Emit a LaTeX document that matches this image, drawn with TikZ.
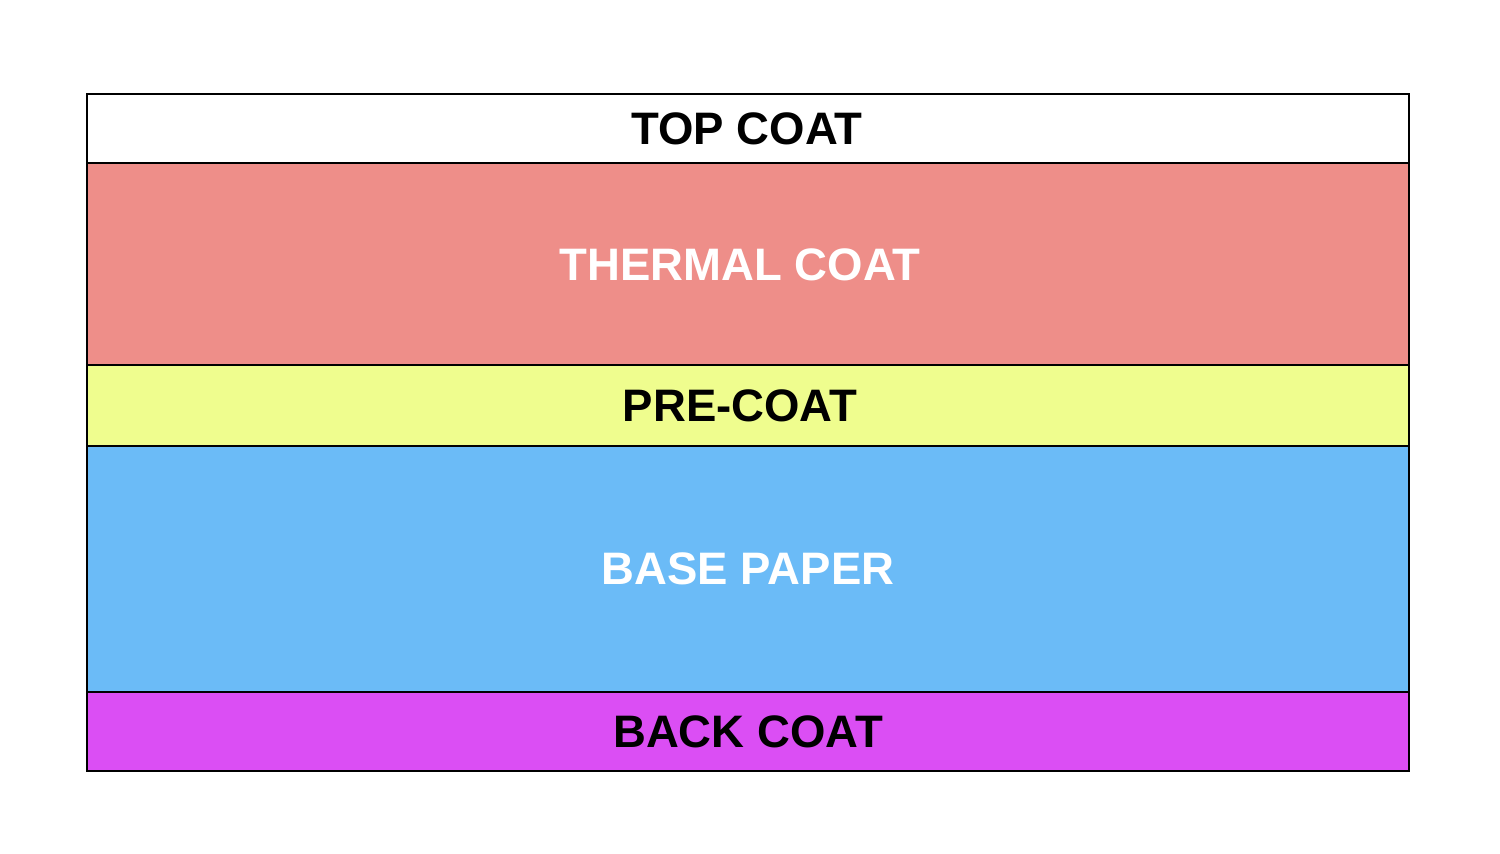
\documentclass[tikz,border=0pt]{standalone}
\usepackage{fontspec}
\setmainfont{Liberation Sans}
\definecolor{thermal}{HTML}{EE8E89}
\definecolor{precoat}{HTML}{EFFD8E}
\definecolor{basepaper}{HTML}{6BBBF7}
\definecolor{backcoat}{HTML}{DB4EF4}
\begin{document}
\begin{tikzpicture}[
	layer/.style={draw=black, line width=0.6pt},
	lbl/.style={font=\fontsize{12.95}{16}\selectfont\bfseries}
	]
		\useasboundingbox (0,0) rectangle (15,8.53);
		\fill[white] (0,0) rectangle (15,8.53);
		% layers, top to bottom
		\draw [layer, fill=white] (0.87,6.90) rectangle (14.09,7.59);
		\draw [layer, fill=thermal] (0.87,4.88) rectangle (14.09,6.90);
		\draw [layer, fill=precoat] (0.87,4.07) rectangle (14.09,4.88);
		\draw [layer, fill=basepaper] (0.87,1.61) rectangle (14.09,4.07);
		\draw [layer, fill=backcoat] (0.87,0.82) rectangle (14.09,1.61);
		% labels
		\node [lbl, text=black] (top) at (7.47,7.24) {TOP COAT};
		\node [lbl, text=white] (thermal) at (7.40,5.88) {THERMAL COAT};
		\node [lbl, text=black] (pre) at (7.40,4.47) {PRE-COAT};
		\node [lbl, text=white] (base) at (7.48,2.84) {BASE PAPER};
		\node [lbl, text=black] (back) at (7.48,1.21) {BACK COAT};
	\end{tikzpicture}
\end{document}
